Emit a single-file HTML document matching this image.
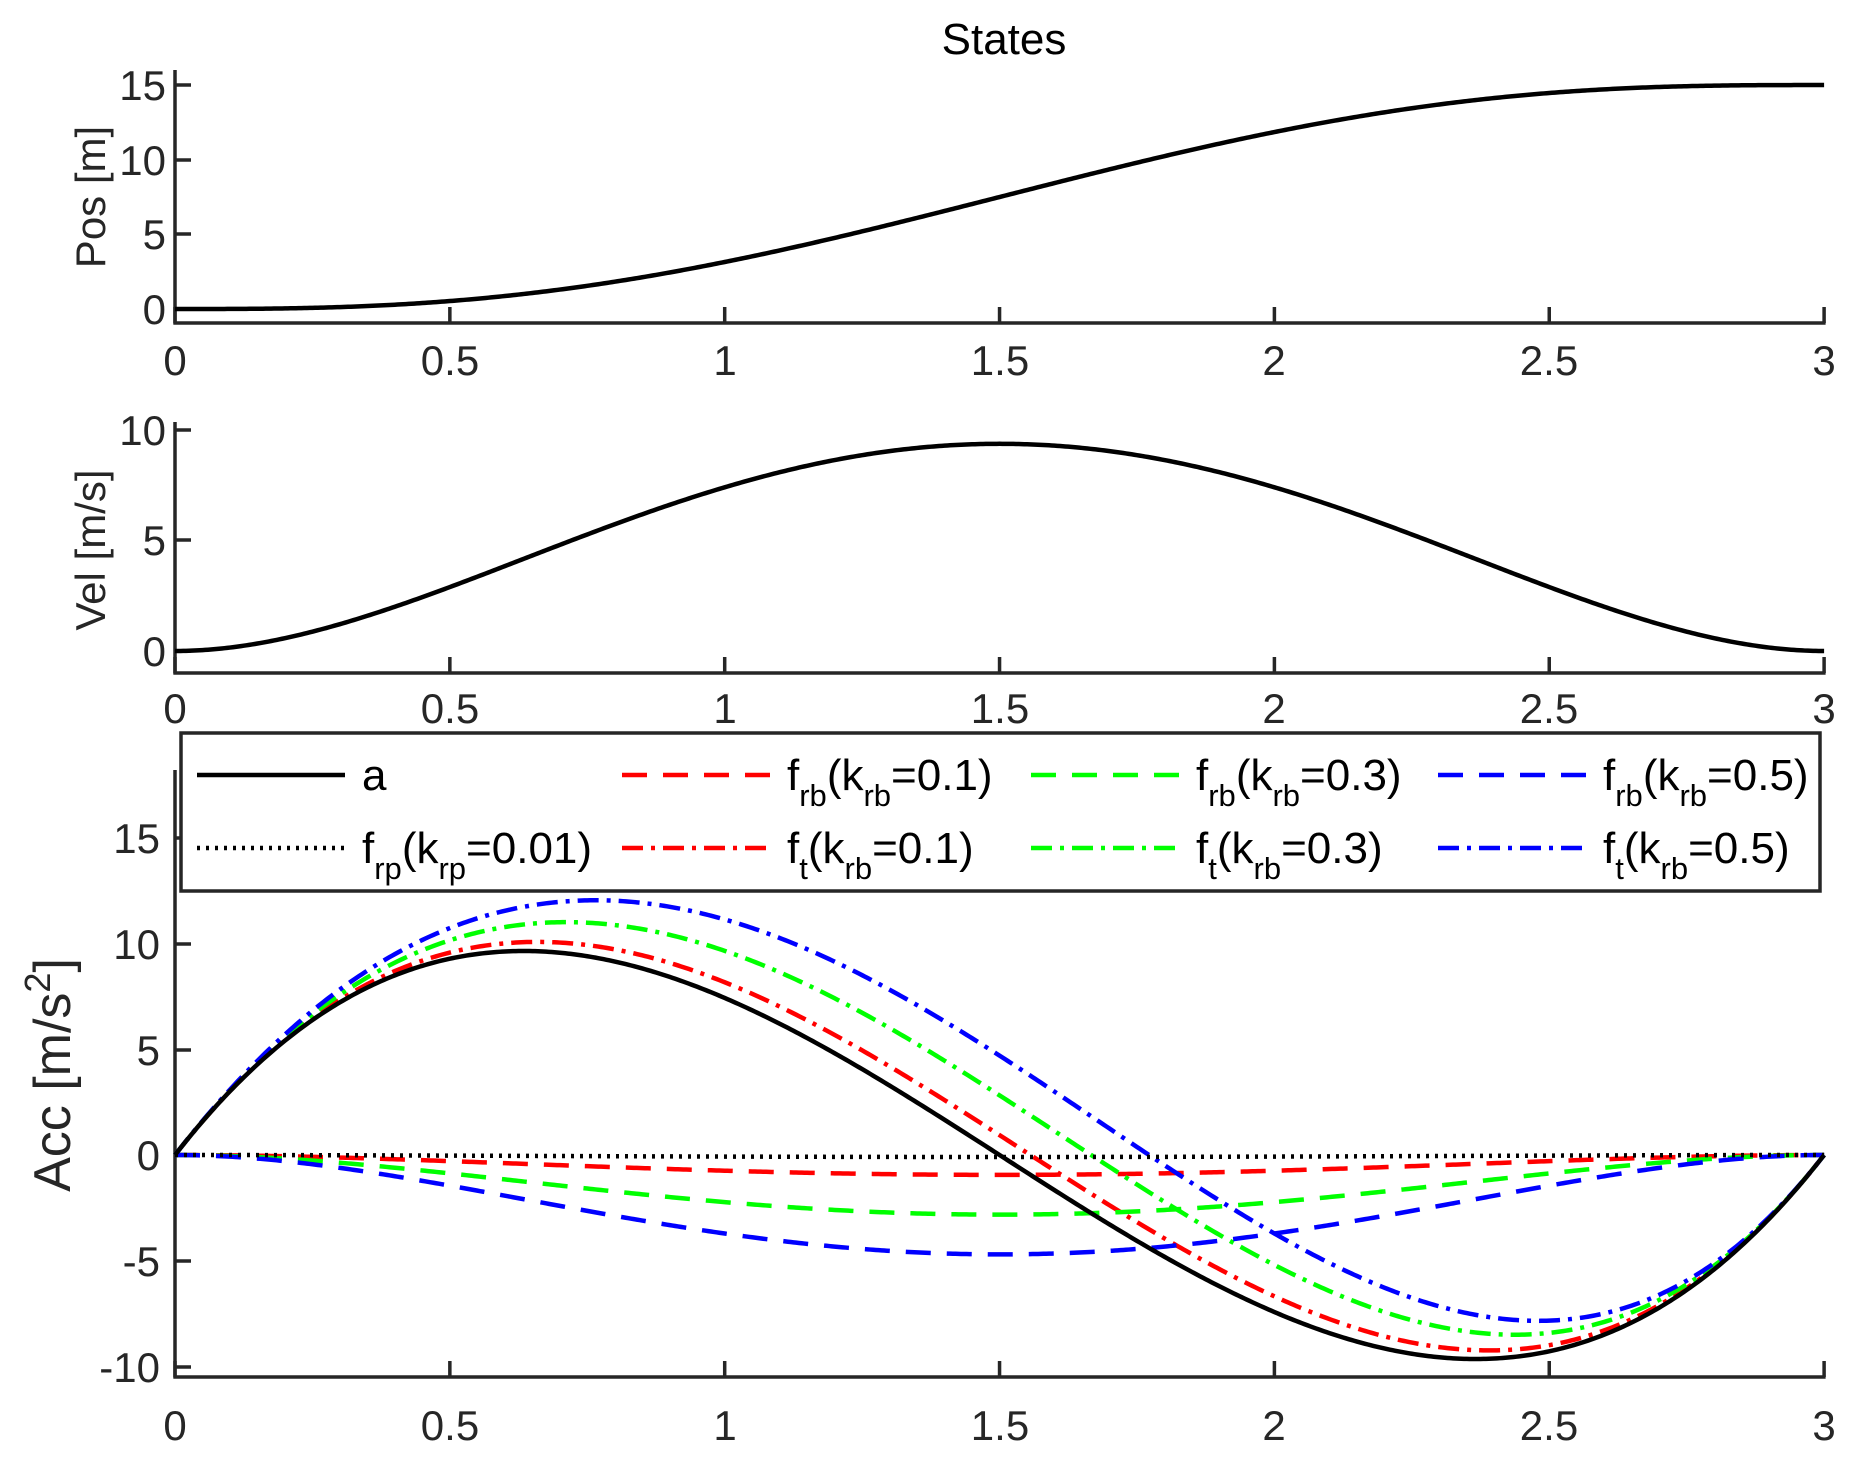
<!DOCTYPE html>
<html><head><meta charset="utf-8"><style>
html,body{margin:0;padding:0;background:#fff;}
svg{display:block;font-family:"Liberation Sans",Arial,sans-serif;}
</style></head><body>
<svg id="s" width="1858" height="1462" viewBox="0 0 1858 1462" xmlns="http://www.w3.org/2000/svg">
<rect width="1858" height="1462" fill="#fff"/>
<text x="1004" y="54" font-size="44" text-anchor="middle" fill="#000">States</text>
<g id="axes" stroke="#262626" stroke-width="3.5" fill="none"></g>
<g id="curves" fill="none" stroke-width="4.5"></g>
<text transform="translate(105,197) rotate(-90)" font-size="42" text-anchor="middle" fill="#262626">Pos [m]</text>
<text transform="translate(105,550) rotate(-90)" font-size="42" text-anchor="middle" fill="#262626">Vel [m/s]</text>
<text transform="translate(70,1075) rotate(-90)" font-size="52" text-anchor="middle" fill="#262626">Acc [m/s<tspan font-size="36" dy="-20">2</tspan><tspan dy="20">]</tspan></text>
<rect x="181" y="733" width="1639" height="158" fill="#fff" stroke="#262626" stroke-width="3.5"/>
<g stroke-width="4.5" fill="none">
<line x1="197" y1="775" x2="345" y2="775" stroke="#000"/>
<line x1="197" y1="848" x2="345" y2="848" stroke="#000" stroke-dasharray="3,6"/>
<line x1="622" y1="775" x2="770" y2="775" stroke="#f00" stroke-dasharray="25,16"/>
<line x1="622" y1="848" x2="772" y2="848" stroke="#f00" stroke-dasharray="21,8,4,8"/>
<line x1="1031" y1="775" x2="1179" y2="775" stroke="#0f0" stroke-dasharray="25,16"/>
<line x1="1031" y1="848" x2="1181" y2="848" stroke="#0f0" stroke-dasharray="21,8,4,8"/>
<line x1="1438" y1="775" x2="1586" y2="775" stroke="#00f" stroke-dasharray="25,16"/>
<line x1="1438" y1="848" x2="1588" y2="848" stroke="#00f" stroke-dasharray="21,8,4,8"/>
</g>
<g font-size="44" fill="#000">
<text x="362" y="790">a</text>
<text x="362" y="863">f<tspan font-size="31" dy="16">rp</tspan><tspan dy="-16">(k</tspan><tspan font-size="31" dy="16">rp</tspan><tspan dy="-16">=0.01)</tspan></text>
<text x="787" y="790">f<tspan font-size="31" dy="16">rb</tspan><tspan dy="-16">(k</tspan><tspan font-size="31" dy="16">rb</tspan><tspan dy="-16">=0.1)</tspan></text>
<text x="787" y="863">f<tspan font-size="31" dy="16">t</tspan><tspan dy="-16">(k</tspan><tspan font-size="31" dy="16">rb</tspan><tspan dy="-16">=0.1)</tspan></text>
<text x="1196" y="790">f<tspan font-size="31" dy="16">rb</tspan><tspan dy="-16">(k</tspan><tspan font-size="31" dy="16">rb</tspan><tspan dy="-16">=0.3)</tspan></text>
<text x="1196" y="863">f<tspan font-size="31" dy="16">t</tspan><tspan dy="-16">(k</tspan><tspan font-size="31" dy="16">rb</tspan><tspan dy="-16">=0.3)</tspan></text>
<text x="1603" y="790">f<tspan font-size="31" dy="16">rb</tspan><tspan dy="-16">(k</tspan><tspan font-size="31" dy="16">rb</tspan><tspan dy="-16">=0.5)</tspan></text>
<text x="1603" y="863">f<tspan font-size="31" dy="16">t</tspan><tspan dy="-16">(k</tspan><tspan font-size="31" dy="16">rb</tspan><tspan dy="-16">=0.5)</tspan></text>
</g>
<g fill="#262626" font-size="42" text-anchor="end">
<text x="166" y="100">15</text><text x="166" y="175">10</text><text x="166" y="249">5</text><text x="166" y="324">0</text>
<text x="166" y="445">10</text><text x="166" y="555">5</text><text x="166" y="666">0</text>
<text x="160" y="853">15</text><text x="160" y="959">10</text><text x="160" y="1065">5</text><text x="160" y="1170">0</text><text x="160" y="1276">-5</text><text x="160" y="1382">-10</text>
</g>
<g fill="#262626" font-size="42" text-anchor="middle">
<text x="175" y="375">0</text><text x="450" y="375">0.5</text><text x="725" y="375">1</text><text x="1000" y="375">1.5</text><text x="1274" y="375">2</text><text x="1549" y="375">2.5</text><text x="1824" y="375">3</text>
<text x="175" y="723">0</text><text x="450" y="723">0.5</text><text x="725" y="723">1</text><text x="1000" y="723">1.5</text><text x="1274" y="723">2</text><text x="1549" y="723">2.5</text><text x="1824" y="723">3</text>
<text x="175" y="1440">0</text><text x="450" y="1440">0.5</text><text x="725" y="1440">1</text><text x="1000" y="1440">1.5</text><text x="1274" y="1440">2</text><text x="1549" y="1440">2.5</text><text x="1824" y="1440">3</text>
</g>
</svg>
<script>
(function(){
var NS="http://www.w3.org/2000/svg";
var X0=175,XS=549.7;
function X(t){return X0+t*XS;}
var ax=document.getElementById('axes'),cv=document.getElementById('curves');
function ln(g,x1,y1,x2,y2){var e=document.createElementNS(NS,'line');e.setAttribute('x1',x1);e.setAttribute('y1',y1);e.setAttribute('x2',x2);e.setAttribute('y2',y2);g.appendChild(e);}
function axis(top,bot,ys){
 ln(ax,X0,top,X0,bot+1.5);ln(ax,X0-1.5,bot,X(3)+1.5,bot);
 for(var i=0;i<=6;i++){ln(ax,X(i*0.5),bot,X(i*0.5),bot-16);}
 ys.forEach(function(y){ln(ax,X0,y,X0+16,y);});
}
axis(70,323,[85,160,234,309]);
axis(422,673,[430,540,651]);
axis(770,1377,[838,944,1050,1155,1261,1367]);
function pth(f,Y,col,da){var d='';for(var i=0;i<=600;i++){var t=3*i/600;d+=(i?'L':'M')+X(t).toFixed(2)+','+Y(f(t)).toFixed(2);}
 var e=document.createElementNS(NS,'path');e.setAttribute('d',d);e.setAttribute('stroke',col);if(da)e.setAttribute('stroke-dasharray',da);cv.appendChild(e);}
function pos(t){var s=t/3;return 15*(10*s*s*s-15*s*s*s*s+6*s*s*s*s*s);}
function vel(t){var s=t/3;return 150*s*s*(1-s)*(1-s);}
function acc(t){var s=t/3;return 100*s*(1-s)*(1-2*s);}
var YP=function(v){return 309-v*14.93;},YV=function(v){return 651-v*22.1;},YA=function(v){return 1155-v*21.2;};
pth(pos,YP,'#000');pth(vel,YV,'#000');
var DA='25,16',DD='21,8,4,8';
[[0.1,'#f00'],[0.3,'#0f0'],[0.5,'#00f']].forEach(function(p){var k=p[0];
 pth(function(t){return -k*vel(t);},YA,p[1],DA);
 pth(function(t){return acc(t)+k*vel(t);},YA,p[1],DD);});
pth(function(t){return -0.01*vel(t);},YA,'#000','3,6');
pth(acc,YA,'#000');
})();
</script>
</body></html>
